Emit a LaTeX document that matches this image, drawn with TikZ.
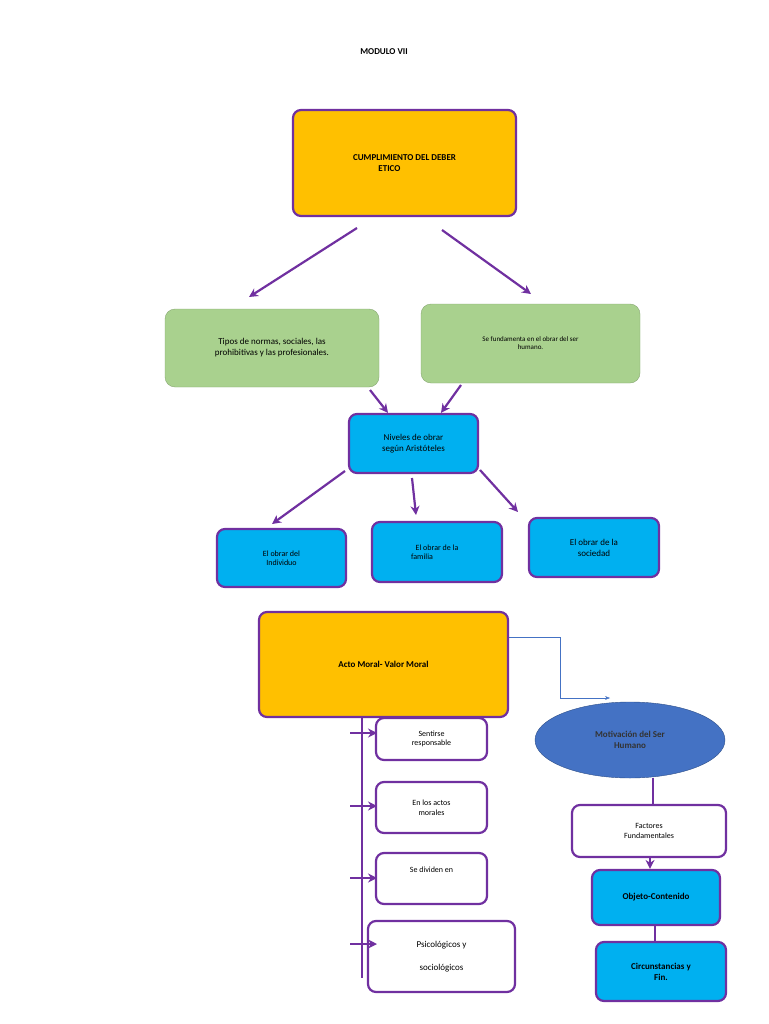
\documentclass[tikz,border=0pt]{standalone}
\usepackage{fontspec}
\setmainfont{Carlito}
\usetikzlibrary{arrows.meta,shapes.geometric}
\definecolor{morado}{HTML}{7030A0}
\definecolor{naranja}{HTML}{FFC000}
\definecolor{celeste}{HTML}{00B0F0}
\definecolor{verde}{HTML}{A9D18E}
\definecolor{azul}{HTML}{4472C4}
\tikzset{
  caja/.style={draw=morado,line width=2.2pt,rounded corners=8pt,align=center,inner sep=0pt},
  naranjo/.style={caja,fill=naranja,font=\bfseries\small},
  cel/.style={caja,fill=celeste,font=\small},
  blanca/.style={caja,fill=white,font=\footnotesize},
  verdecaja/.style={draw=verde!80!black,fill=verde,rounded corners=10pt,align=center,inner sep=0pt},
  flecha/.style={draw=morado,line width=2.2pt,-{Stealth[length=9pt,width=9pt]}},
  linea/.style={draw=morado,line width=2.2pt}
}
\begin{document}
\begin{tikzpicture}[x=1pt,y=-1pt]
  \useasboundingbox (0,0) rectangle (768,1024);
  \node[font=\bfseries\small] (titulo) at (384,52) {MODULO VII};
  % parte superior
  \node[naranjo,minimum width=223pt,minimum height=106pt] (deber) at (404.5,163) {CUMPLIMIENTO DEL DEBER\\ETICO\hspace*{30pt}};
  \node[verdecaja,minimum width=214pt,minimum height=78pt,font=\small] (tipos) at (272,348) {Tipos de normas, sociales, las\\prohibitivas y las profesionales.};
  \node[verdecaja,minimum width=219pt,minimum height=79pt,font=\scriptsize] (funda) at (530.5,343.5) {Se fundamenta en el obrar del ser\\humano.};
  \coordinate (d1) at (357,228); \coordinate (d2) at (442,230);
  \draw[flecha] (d1) -- (249,297);
  \draw[flecha] (d2) -- (531,294);
  \node[cel,minimum width=129pt,minimum height=59pt] (niveles) at (413.5,443.5) {Niveles de obrar\\según Aristóteles};
  \draw[flecha] (370,390) -- (niveles.north west -| 388,0);
  \draw[flecha] (461,385) -- (niveles.north -| 441,0);
  \node[cel,minimum width=129pt,minimum height=58pt,font=\footnotesize] (indiv) at (281.5,558) {El obrar del\\Individuo};
  \node[cel,minimum width=130pt,minimum height=60pt,font=\footnotesize] (familia) at (437,552) {El obrar de la\\familia\hspace*{30pt}};
  \node[cel,minimum width=130pt,minimum height=59pt] (sociedad) at (594,547.5) {El obrar de la\\sociedad};
  \draw[flecha] (345,471) -- (272,524);
  \draw[flecha] (412,478) -- (416,515);
  \draw[flecha] (480,470) -- (518,512);
  % parte inferior
  \node[naranjo,minimum width=249pt,minimum height=105pt] (acto) at (383.5,664.5) {Acto Moral- Valor Moral};
  \node[ellipse,draw=azul!70!black,fill=azul,minimum width=190pt,minimum height=76pt,align=center,font=\bfseries\small,text=black!80] (motiv) at (630,740) {Motivación del Ser\\Humano};
  \draw[azul,-{Stealth[length=5pt]}] (acto.east |- 0,637) -| (560,698) -- (610,698);
  \node[caja,fill=white,minimum width=154pt,minimum height=52pt,font=\footnotesize] (factores) at (649,831) {Factores\\Fundamentales};
  \node[cel,minimum width=128pt,minimum height=55pt,font=\bfseries\small] (objeto) at (656,897.5) {Objeto-Contenido};
  \node[cel,minimum width=130pt,minimum height=59pt,font=\bfseries\small] (circ) at (661,971.5) {Circunstancias y\\Fin.};
  \draw[linea] (motiv.south -| 653,0) -- (factores.north -| 653,0);
  \draw[flecha] (factores.south -| 650,0) -- (objeto.north -| 650,0);
  \draw[linea] (objeto.south -| 655,0) -- (circ.north -| 655,0);
  \node[blanca,minimum width=111pt,minimum height=42pt] (sentirse) at (431.5,739) {Sentirse\\responsable};
  \node[blanca,minimum width=111pt,minimum height=51pt] (actos) at (431.5,807.5) {En los actos\\morales};
  \node[blanca,minimum width=111pt,minimum height=51pt] (dividen) at (431.5,878.5) {\raisebox{18pt}{Se dividen en}};
  \node[blanca,minimum width=147pt,minimum height=71pt,font=\small] (psico) at (441.5,956.5) {Psicológicos y\\[12pt]sociológicos};
  \coordinate (eje1) at (362,717);
  \coordinate (eje2) at (362,978);
  \draw[linea] (eje1) -- (eje2);
  \foreach \y in {733,806,878,944}
    \draw[flecha] (350,\y) -- (377,\y);
\end{tikzpicture}
\end{document}
